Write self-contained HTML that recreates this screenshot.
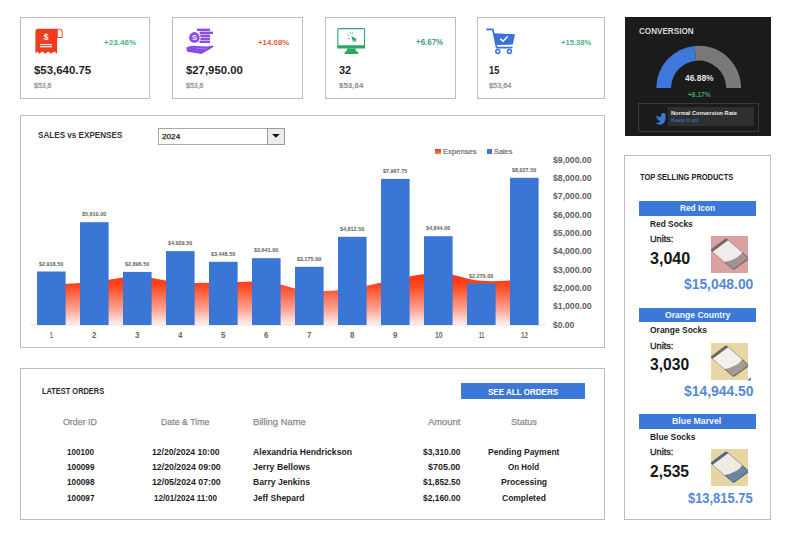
<!DOCTYPE html>
<html><head><meta charset="utf-8"><style>
html,body{margin:0;padding:0;background:#fff;width:790px;height:539px;overflow:hidden;position:relative;font-family:"Liberation Sans",sans-serif;}
.t{position:absolute;white-space:nowrap;line-height:1;transform-origin:0 0;}
.r{position:absolute;}
</style></head><body>
<div class="r" style="left:20px;top:17px;width:130px;height:82px;border:1px solid #bcbcbc;box-sizing:border-box;background:#fff;"></div>
<div class="r" style="left:172px;top:17px;width:131px;height:82px;border:1px solid #bcbcbc;box-sizing:border-box;background:#fff;"></div>
<div class="r" style="left:325px;top:17px;width:131px;height:82px;border:1px solid #bcbcbc;box-sizing:border-box;background:#fff;"></div>
<div class="r" style="left:477px;top:17px;width:128px;height:82px;border:1px solid #bcbcbc;box-sizing:border-box;background:#fff;"></div>
<div class="t" style="left:33.70px;top:65.01px;font-size:11.16px;font-weight:bold;color:#1f1f1f;transform:scaleX(1.024);">$53,640.75</div>
<div class="t" style="left:185.90px;top:65.01px;font-size:11.16px;font-weight:bold;color:#1f1f1f;transform:scaleX(1.017);">$27,950.00</div>
<div class="t" style="left:338.80px;top:64.77px;font-size:11.45px;font-weight:bold;color:#1f1f1f;transform:scaleX(0.960);">32</div>
<div class="t" style="left:488.80px;top:64.77px;font-size:11.45px;font-weight:bold;color:#1f1f1f;transform:scaleX(0.818);">15</div>
<div class="t" style="left:33.50px;top:83.26px;font-size:7.10px;color:#999;transform:scaleX(0.984);-webkit-text-stroke:0.3px #999;">$53,6</div>
<div class="t" style="left:185.50px;top:83.26px;font-size:7.10px;color:#999;transform:scaleX(0.984);-webkit-text-stroke:0.3px #999;">$53,6</div>
<div class="t" style="left:338.50px;top:82.04px;font-size:7.54px;font-weight:bold;color:#8a8a8a;transform:scaleX(1.056);font-family:"Liberation Serif",serif;">$53,64</div>
<div class="t" style="left:488.80px;top:83.26px;font-size:7.10px;color:#999;transform:scaleX(1.031);-webkit-text-stroke:0.3px #999;">$53,64</div>
<div class="t" style="left:103.90px;top:39.10px;font-size:8.12px;font-weight:bold;color:#4db383;transform:scaleX(0.995);">+23.46%</div>
<div class="t" style="left:258.40px;top:39.10px;font-size:8.12px;font-weight:bold;color:#e8583e;transform:scaleX(0.970);">+14.08%</div>
<div class="t" style="left:416.30px;top:37.85px;font-size:8.62px;font-weight:bold;color:#4e9e7e;transform:scaleX(0.923);font-family:"Liberation Serif",serif;">+6.67%</div>
<div class="t" style="left:561.00px;top:39.10px;font-size:8.12px;font-weight:bold;color:#4db383;transform:scaleX(0.942);">+15.38%</div>
<div class="r" style="left:625px;top:17px;width:146px;height:119px;background:#1b1b1b;"></div>
<div class="t" style="left:638.60px;top:26.29px;font-size:9.42px;font-weight:bold;color:#d8d8d8;transform:scaleX(0.863);">CONVERSION</div>
<div class="t" style="left:685.30px;top:73.81px;font-size:8.70px;font-weight:bold;color:#e6e6e6;transform:scaleX(0.970);">46.88%</div>
<div class="t" style="left:688.40px;top:91.44px;font-size:7.25px;font-weight:bold;color:#3fa86a;transform:scaleX(0.912);">+8.17%</div>
<div class="r" style="left:638px;top:103px;width:121px;height:29px;border:1px solid #3a3a3a;box-sizing:border-box;"></div>
<div class="r" style="left:668px;top:107px;width:86px;height:19px;background:#2f2f2f;"></div>
<div class="t" style="left:670.80px;top:110.55px;font-size:5.94px;font-weight:bold;color:#eeeeee;transform:scaleX(0.950);">Normal Conversion Rate</div>
<div class="t" style="left:671.00px;top:117.57px;font-size:5.80px;color:#4a78d0;transform:scaleX(1.010);">Keep it up!</div>
<div class="r" style="left:20px;top:115px;width:585px;height:233px;border:1px solid #bcbcbc;box-sizing:border-box;"></div>
<div class="t" style="left:37.50px;top:130.99px;font-size:8.84px;font-weight:bold;color:#333;transform:scaleX(0.919);">SALES vs EXPENSES</div>
<div class="r" style="left:20px;top:368px;width:585px;height:152px;border:1px solid #bcbcbc;box-sizing:border-box;"></div>
<div class="t" style="left:41.90px;top:387.04px;font-size:9.13px;font-weight:bold;color:#2a2a2a;transform:scaleX(0.813);">LATEST ORDERS</div>
<div class="r" style="left:461px;top:383px;width:124px;height:16px;background:#3c78d8;"></div>
<div class="t" style="left:487.70px;top:386.87px;font-size:9.57px;font-weight:bold;color:#ffffff;transform:scaleX(0.840);">SEE ALL ORDERS</div>
<div class="r" style="left:624px;top:155px;width:147px;height:365px;border:1px solid #bcbcbc;box-sizing:border-box;"></div>
<div class="t" style="left:640.40px;top:172.49px;font-size:9.42px;font-weight:bold;color:#222;transform:scaleX(0.792);">TOP SELLING PRODUCTS</div>
<svg class="r" style="left:0;top:0" width="790" height="539" viewBox="0 0 790 539"><defs><linearGradient id="ag" x1="0" y1="270" x2="0" y2="325" gradientUnits="userSpaceOnUse"><stop offset="0" stop-color="#ff2a00"/><stop offset="0.3" stop-color="#fd4a22"/><stop offset="0.7" stop-color="#fba090"/><stop offset="1" stop-color="#fdf2f0"/></linearGradient></defs><path d="M51.30,325.0 L51.30,284.80 C58.47,284.30 79.97,283.18 94.30,281.80 C108.63,280.42 122.97,276.38 137.30,276.50 C151.63,276.62 165.97,281.50 180.30,282.50 C194.63,283.50 208.97,282.58 223.30,282.50 C237.63,282.42 251.97,280.62 266.30,282.00 C280.63,283.38 294.97,289.73 309.30,290.80 C323.63,291.87 337.97,290.28 352.30,288.40 C366.63,286.52 380.97,282.07 395.30,279.50 C409.63,276.93 423.97,272.78 438.30,273.00 C452.63,273.22 466.97,279.67 481.30,280.80 C495.63,281.93 517.13,279.97 524.30,279.80 L524.30,325.0 Z" fill="url(#ag)"/><line x1="30" y1="325" x2="546" y2="325" stroke="#e4e4e4" stroke-width="1"/><rect x="37" y="271.5" width="28.6" height="53.5" fill="#3a76d6"/><rect x="80" y="222.2" width="28.6" height="102.8" fill="#3a76d6"/><rect x="123" y="271.9" width="28.6" height="53.1" fill="#3a76d6"/><rect x="166" y="251.1" width="28.6" height="73.9" fill="#3a76d6"/><rect x="209" y="261.8" width="28.6" height="63.2" fill="#3a76d6"/><rect x="252" y="258.2" width="28.6" height="66.8" fill="#3a76d6"/><rect x="295" y="266.8" width="28.6" height="58.2" fill="#3a76d6"/><rect x="338" y="236.8" width="28.6" height="88.2" fill="#3a76d6"/><rect x="381" y="178.9" width="28.6" height="146.1" fill="#3a76d6"/><rect x="424" y="236.2" width="28.6" height="88.8" fill="#3a76d6"/><rect x="467" y="283.4" width="28.6" height="41.6" fill="#3a76d6"/><rect x="510" y="177.8" width="28.6" height="147.2" fill="#3a76d6"/></svg>
<div class="t" style="left:39.20px;top:262.14px;font-size:5.36px;font-weight:bold;color:#606060;transform:scaleX(1.014);">$2,918.50</div>
<div class="t" style="left:82.20px;top:211.79px;font-size:5.36px;font-weight:bold;color:#606060;transform:scaleX(1.014);">$5,610.00</div>
<div class="t" style="left:125.20px;top:261.54px;font-size:5.36px;font-weight:bold;color:#606060;transform:scaleX(1.014);">$2,896.50</div>
<div class="t" style="left:168.20px;top:240.77px;font-size:5.36px;font-weight:bold;color:#606060;transform:scaleX(1.014);">$4,029.50</div>
<div class="t" style="left:211.20px;top:252.42px;font-size:5.36px;font-weight:bold;color:#606060;transform:scaleX(1.014);">$3,448.50</div>
<div class="t" style="left:254.20px;top:247.89px;font-size:5.36px;font-weight:bold;color:#606060;transform:scaleX(1.014);">$3,641.00</div>
<div class="t" style="left:297.20px;top:257.43px;font-size:5.36px;font-weight:bold;color:#606060;transform:scaleX(1.014);">$3,175.00</div>
<div class="t" style="left:340.20px;top:227.41px;font-size:5.36px;font-weight:bold;color:#606060;transform:scaleX(1.014);">$4,812.50</div>
<div class="t" style="left:383.20px;top:168.57px;font-size:5.36px;font-weight:bold;color:#606060;transform:scaleX(1.014);">$7,967.75</div>
<div class="t" style="left:426.20px;top:225.84px;font-size:5.36px;font-weight:bold;color:#606060;transform:scaleX(1.014);">$4,844.00</div>
<div class="t" style="left:469.20px;top:274.03px;font-size:5.36px;font-weight:bold;color:#606060;transform:scaleX(1.014);">$2,270.00</div>
<div class="t" style="left:512.20px;top:168.47px;font-size:5.36px;font-weight:bold;color:#606060;transform:scaleX(1.014);">$8,027.50</div>
<div class="t" style="left:49.90px;top:331.39px;font-size:8.84px;font-weight:bold;color:#6a6a6a;transform:scaleX(0.571);">1</div>
<div class="t" style="left:92.10px;top:331.39px;font-size:8.84px;font-weight:bold;color:#6a6a6a;transform:scaleX(0.897);">2</div>
<div class="t" style="left:135.10px;top:331.39px;font-size:8.84px;font-weight:bold;color:#6a6a6a;transform:scaleX(0.897);">3</div>
<div class="t" style="left:178.10px;top:331.39px;font-size:8.84px;font-weight:bold;color:#6a6a6a;transform:scaleX(0.897);">4</div>
<div class="t" style="left:221.10px;top:331.39px;font-size:8.84px;font-weight:bold;color:#6a6a6a;transform:scaleX(0.897);">5</div>
<div class="t" style="left:264.10px;top:331.39px;font-size:8.84px;font-weight:bold;color:#6a6a6a;transform:scaleX(0.897);">6</div>
<div class="t" style="left:307.10px;top:331.39px;font-size:8.84px;font-weight:bold;color:#6a6a6a;transform:scaleX(0.897);">7</div>
<div class="t" style="left:350.10px;top:331.39px;font-size:8.84px;font-weight:bold;color:#6a6a6a;transform:scaleX(0.897);">8</div>
<div class="t" style="left:393.10px;top:331.39px;font-size:8.84px;font-weight:bold;color:#6a6a6a;transform:scaleX(0.897);">9</div>
<div class="t" style="left:434.50px;top:331.39px;font-size:8.84px;font-weight:bold;color:#6a6a6a;transform:scaleX(0.774);">10</div>
<div class="t" style="left:478.65px;top:331.39px;font-size:8.84px;font-weight:bold;color:#6a6a6a;transform:scaleX(0.568);">11</div>
<div class="t" style="left:520.85px;top:331.39px;font-size:8.84px;font-weight:bold;color:#6a6a6a;transform:scaleX(0.703);">12</div>
<div class="t" style="left:553.00px;top:321.78px;font-size:8.26px;font-weight:bold;color:#5e5e5e;transform:scaleX(1.034);">$0.00</div>
<div class="t" style="left:553.00px;top:303.45px;font-size:8.26px;font-weight:bold;color:#5e5e5e;transform:scaleX(1.050);">$1,000.00</div>
<div class="t" style="left:553.00px;top:285.11px;font-size:8.26px;font-weight:bold;color:#5e5e5e;transform:scaleX(1.050);">$2,000.00</div>
<div class="t" style="left:553.00px;top:266.78px;font-size:8.26px;font-weight:bold;color:#5e5e5e;transform:scaleX(1.050);">$3,000.00</div>
<div class="t" style="left:553.00px;top:248.45px;font-size:8.26px;font-weight:bold;color:#5e5e5e;transform:scaleX(1.050);">$4,000.00</div>
<div class="t" style="left:553.00px;top:230.11px;font-size:8.26px;font-weight:bold;color:#5e5e5e;transform:scaleX(1.050);">$5,000.00</div>
<div class="t" style="left:553.00px;top:211.78px;font-size:8.26px;font-weight:bold;color:#5e5e5e;transform:scaleX(1.050);">$6,000.00</div>
<div class="t" style="left:553.00px;top:193.45px;font-size:8.26px;font-weight:bold;color:#5e5e5e;transform:scaleX(1.050);">$7,000.00</div>
<div class="t" style="left:553.00px;top:175.11px;font-size:8.26px;font-weight:bold;color:#5e5e5e;transform:scaleX(1.050);">$8,000.00</div>
<div class="t" style="left:553.00px;top:156.78px;font-size:8.26px;font-weight:bold;color:#5e5e5e;transform:scaleX(1.050);">$9,000.00</div>
<div class="r" style="left:435.2px;top:149.2px;width:5.400000000000034px;height:4.400000000000006px;background:linear-gradient(#e63a22,#f08068);"></div>
<div class="t" style="left:443.00px;top:149.09px;font-size:6.96px;color:#707070;transform:scaleX(1.104);-webkit-text-stroke:0.2px #707070;">Expenses</div>
<div class="r" style="left:486.9px;top:149.4px;width:4.800000000000011px;height:4.599999999999994px;background:#3a76d6;"></div>
<div class="t" style="left:494.30px;top:149.09px;font-size:6.96px;color:#707070;transform:scaleX(1.052);-webkit-text-stroke:0.2px #707070;">Sales</div>
<div class="r" style="left:158px;top:128px;width:127px;height:17px;border:1px solid #a8a8a8;box-sizing:border-box;background:#fff;"></div>
<div class="r" style="left:267px;top:128px;width:18px;height:17px;background:#ececec;border:1px solid #9a9a9a;box-sizing:border-box;"></div>
<svg class="r" style="left:270px;top:133px" width="11" height="7"><polygon points="2,1 9.8,1 5.9,4.8" fill="#111"/></svg>
<div class="t" style="left:161.80px;top:133.47px;font-size:7.68px;color:#222;transform:scaleX(1.065);-webkit-text-stroke:0.25px #222;">2024</div>
<svg class="r" style="left:0;top:0" width="790" height="120" viewBox="0 0 790 120">
<path d="M35.4,31.7 Q35.4,28.7 38.4,28.7 L59.5,28.7 Q62.6,28.7 62.6,31.7 L62.6,37.9 L57.1,37.9 L57.1,53.8 L54.1,51.6 L51,53.8 L48.1,51.6 L45.2,53.8 L42.2,51.6 L39.3,53.8 L37.2,51.6 L35.4,53.8 Z" fill="#f03b1c"/>
<path d="M57.8,29.6 L59.5,29.6 Q61.7,29.6 61.7,31.7 L61.7,37.1 L57.8,37.1 Z" fill="#fff"/>
<text x="46.1" y="39.6" font-family="Liberation Sans" font-weight="bold" font-size="8.6" fill="#fff" text-anchor="middle">$</text>
<rect x="40" y="44" width="12" height="1.1" fill="#fff"/>
<rect x="40" y="46.2" width="12" height="1.1" fill="#fff"/>
</svg>
<svg class="r" style="left:0;top:0" width="790" height="120" viewBox="0 0 790 120">
<g fill="#8d4be6">
<rect x="197" y="28.6" width="13" height="2.4"/>
<rect x="199.6" y="31.6" width="13.4" height="2.4"/>
<rect x="200" y="34.6" width="10" height="2.4"/>
<rect x="200" y="37.6" width="10" height="2.4"/>
<rect x="199.4" y="40.6" width="10.6" height="2.4"/>
<path d="M186.2,47.6 Q190,45.6 193.3,45.8 L206.7,46.6 L213.3,45.6 Q214,46.6 212.5,47.6 L201.6,54.1 L195.3,53 L187.2,51.8 Z"/>
</g>
<circle cx="194.4" cy="37.4" r="6.2" fill="#fff"/>
<circle cx="194.4" cy="37.4" r="5.3" fill="#8d4be6"/>
<text x="194.6" y="40.1" font-family="Liberation Sans" font-weight="bold" font-size="7.6" fill="#f0e6ff" text-anchor="middle">S</text>
<path d="M196,48.4 L206.7,48.6" stroke="#b98cf0" stroke-width="0.6"/>
</svg>
<svg class="r" style="left:0;top:0" width="790" height="120" viewBox="0 0 790 120">
<g fill="#2aa865">
<path d="M338.8,28.1 L363.6,28.1 Q365.1,28.1 365.1,29.6 L365.1,48.6 L337.3,48.6 L337.3,29.6 Q337.3,28.1 338.8,28.1 Z M338.4,29.2 L338.4,45.2 L364.0,45.2 L364.0,29.2 Z" fill-rule="evenodd"/>
<path d="M347.3,48.6 L355.3,48.6 L356,51 L358.3,52.2 L358.3,53.9 L344.6,53.9 L344.6,52.2 L346.6,51 Z"/>
<path d="M351.3,36 L357,39.3 L355,39.9 L356.7,41.4 L355.8,42.2 L354.2,40.6 L353,42 Z"/>
<rect x="347.6" y="34.6" width="1.6" height="0.8"/>
<rect x="348" y="38" width="1.5" height="0.8"/>
<rect x="350.2" y="32.4" width="0.8" height="1.3"/>
<rect x="352.2" y="32.4" width="0.8" height="1.3"/>
</g>
</svg>
<svg class="r" style="left:0;top:0" width="790" height="120" viewBox="0 0 790 120">
<g fill="none" stroke="#3a73d6" stroke-linecap="round" stroke-linejoin="round">
<path d="M487,29.4 L492.8,29.4 L496.6,47.6 L511.8,47.6" stroke-width="1.7"/>
<circle cx="497.8" cy="51.6" r="2" stroke-width="1.5"/>
<circle cx="509.4" cy="51.6" r="2" stroke-width="1.5"/>
</g>
<path d="M493.6,33.2 L515,34.2 L512.8,44.6 L496.3,45 Z" fill="#3a73d6"/>
<path d="M500.6,39.2 L503,41.2 L507.4,36.8" fill="none" stroke="#fff" stroke-width="1.5" stroke-linecap="round" stroke-linejoin="round"/>
</svg>
<svg class="r" style="left:0;top:0" width="790" height="140" viewBox="0 0 790 140"><path d="M656.3000000000001,88.1 A42.4,42.4 0 0 1 694.55,45.90 L696.00,60.63 A27.6,27.6 0 0 0 671.1,88.1 Z" fill="#3d78da"/><path d="M694.55,45.90 A42.4,42.4 0 0 1 741.1,88.1 L726.3000000000001,88.1 A27.6,27.6 0 0 0 696.00,60.63 Z" fill="#7b7978"/><path d="M655.2,115.5 Q657,118.5 659.5,118.6 Q657.2,119 656.3,118.3 Q657.5,121 660.8,121.3 Q658.8,123.5 655.5,123 Q661,126.8 664.2,122.6 Q666,119.8 665.6,114.6 L666.6,113.6 L665.2,113.9 Q663.6,112.4 661.5,113.8 Q660.6,115.4 661,117 Q658,116.8 655.2,115.5 Z" fill="#3c78d8"/></svg>
<div class="t" style="left:63.20px;top:416.55px;font-size:9.71px;color:#8a8a8a;transform:scaleX(0.910);-webkit-text-stroke:0.25px #8a8a8a;">Order ID</div>
<div class="t" style="left:161.30px;top:416.55px;font-size:9.71px;color:#8a8a8a;transform:scaleX(0.906);-webkit-text-stroke:0.25px #8a8a8a;">Date &amp; Time</div>
<div class="t" style="left:252.50px;top:416.55px;font-size:9.71px;color:#8a8a8a;transform:scaleX(0.967);-webkit-text-stroke:0.25px #8a8a8a;">Billing Name</div>
<div class="t" style="left:428.20px;top:416.55px;font-size:9.71px;color:#8a8a8a;transform:scaleX(0.969);-webkit-text-stroke:0.25px #8a8a8a;">Amount</div>
<div class="t" style="left:510.60px;top:416.55px;font-size:9.71px;color:#8a8a8a;transform:scaleX(0.941);-webkit-text-stroke:0.25px #8a8a8a;">Status</div>
<div class="t" style="left:66.90px;top:446.72px;font-size:9.86px;font-weight:bold;color:#1e1e1e;transform:scaleX(0.818);">100100</div>
<div class="t" style="left:152.10px;top:446.72px;font-size:9.86px;font-weight:bold;color:#1e1e1e;transform:scaleX(0.875);">12/20/2024 10:00</div>
<div class="t" style="left:252.90px;top:446.72px;font-size:9.86px;font-weight:bold;color:#1e1e1e;transform:scaleX(0.879);">Alexandria Hendrickson</div>
<div class="t" style="left:423.10px;top:446.72px;font-size:9.86px;font-weight:bold;color:#1e1e1e;transform:scaleX(0.855);">$3,310.00</div>
<div class="t" style="left:487.90px;top:446.72px;font-size:9.86px;font-weight:bold;color:#1e1e1e;transform:scaleX(0.865);">Pending Payment</div>
<div class="t" style="left:66.50px;top:462.02px;font-size:9.86px;font-weight:bold;color:#1e1e1e;transform:scaleX(0.837);">100099</div>
<div class="t" style="left:151.50px;top:462.02px;font-size:9.86px;font-weight:bold;color:#1e1e1e;transform:scaleX(0.890);">12/20/2024 09:00</div>
<div class="t" style="left:252.90px;top:462.02px;font-size:9.86px;font-weight:bold;color:#1e1e1e;transform:scaleX(0.891);">Jerry Bellows</div>
<div class="t" style="left:428.20px;top:462.02px;font-size:9.86px;font-weight:bold;color:#1e1e1e;transform:scaleX(0.909);">$705.00</div>
<div class="t" style="left:507.80px;top:462.02px;font-size:9.86px;font-weight:bold;color:#1e1e1e;transform:scaleX(0.811);">On Hold</div>
<div class="t" style="left:66.50px;top:476.92px;font-size:9.86px;font-weight:bold;color:#1e1e1e;transform:scaleX(0.837);">100098</div>
<div class="t" style="left:151.50px;top:476.92px;font-size:9.86px;font-weight:bold;color:#1e1e1e;transform:scaleX(0.890);">12/05/2024 07:00</div>
<div class="t" style="left:252.90px;top:476.92px;font-size:9.86px;font-weight:bold;color:#1e1e1e;transform:scaleX(0.876);">Barry Jenkins</div>
<div class="t" style="left:423.10px;top:476.92px;font-size:9.86px;font-weight:bold;color:#1e1e1e;transform:scaleX(0.855);">$1,852.50</div>
<div class="t" style="left:500.50px;top:476.92px;font-size:9.86px;font-weight:bold;color:#1e1e1e;transform:scaleX(0.868);">Processing</div>
<div class="t" style="left:66.50px;top:492.62px;font-size:9.86px;font-weight:bold;color:#1e1e1e;transform:scaleX(0.837);">100097</div>
<div class="t" style="left:154.00px;top:492.62px;font-size:9.86px;font-weight:bold;color:#1e1e1e;transform:scaleX(0.822);">12/01/2024 11:00</div>
<div class="t" style="left:252.90px;top:492.62px;font-size:9.86px;font-weight:bold;color:#1e1e1e;transform:scaleX(0.865);">Jeff Shepard</div>
<div class="t" style="left:423.10px;top:492.62px;font-size:9.86px;font-weight:bold;color:#1e1e1e;transform:scaleX(0.855);">$2,160.00</div>
<div class="t" style="left:501.70px;top:492.62px;font-size:9.86px;font-weight:bold;color:#1e1e1e;transform:scaleX(0.862);">Completed</div>
<div class="r" style="left:638.5px;top:201.0px;width:117.10000000000002px;height:14.900000000000006px;background:#3c78d8;"></div>
<div class="t" style="left:679.80px;top:203.29px;font-size:9.42px;font-weight:bold;color:#f4f6fb;transform:scaleX(0.882);">Red Icon</div>
<div class="t" style="left:650.00px;top:218.69px;font-size:9.42px;font-weight:bold;color:#1e1e1e;transform:scaleX(0.888);">Red Socks</div>
<div class="t" style="left:650.00px;top:233.72px;font-size:9.86px;color:#222;transform:scaleX(0.929);-webkit-text-stroke:0.35px #222;">Units:</div>
<div class="t" style="left:650.00px;top:250.61px;font-size:16.81px;font-weight:bold;color:#161616;transform:scaleX(0.957);">3,040</div>
<div class="t" style="left:683.70px;top:276.83px;font-size:14.78px;font-weight:bold;color:#5588d6;transform:scaleX(0.938);">$15,048.00</div>
<svg class="r" style="left:711.2px;top:236.0px" width="37" height="37" viewBox="0 0 37 37"><rect width="37" height="37" fill="#d9a1a1"/><g transform="translate(18.9,18.2) rotate(41) skewX(-12.6)"><rect x="-15.6" y="-9.7" width="31.2" height="19.4" rx="1.6" fill="#7a6464"/><path d="M4.5,-8.9 Q9.5,-1 3,8.9 L14.2,8.9 Q15,0 14.2,-8.9 Z" fill="#a39292"/><path d="M-12.6,-9.4 L6,-9.4 Q9,-1 3.2,9.4 L-12.6,9.4 Z" fill="#f1ecec"/></g></svg>
<div class="r" style="left:638.5px;top:307.6px;width:117.10000000000002px;height:14.899999999999977px;background:#3c78d8;"></div>
<div class="t" style="left:664.70px;top:309.89px;font-size:9.42px;font-weight:bold;color:#f4f6fb;transform:scaleX(0.911);">Orange Country</div>
<div class="t" style="left:650.00px;top:325.29px;font-size:9.42px;font-weight:bold;color:#1e1e1e;transform:scaleX(0.901);">Orange Socks</div>
<div class="t" style="left:650.00px;top:341.32px;font-size:9.86px;color:#222;transform:scaleX(0.929);-webkit-text-stroke:0.35px #222;">Units:</div>
<div class="t" style="left:650.00px;top:357.21px;font-size:16.81px;font-weight:bold;color:#161616;transform:scaleX(0.931);">3,030</div>
<div class="t" style="left:683.50px;top:384.43px;font-size:14.78px;font-weight:bold;color:#5588d6;transform:scaleX(0.941);">$14,944.50</div>
<svg class="r" style="left:711.2px;top:342.6px" width="37" height="37" viewBox="0 0 37 37"><rect width="37" height="37" fill="#e7d6a6"/><g transform="translate(18.9,18.2) rotate(41) skewX(-12.6)"><rect x="-15.6" y="-9.7" width="31.2" height="19.4" rx="1.6" fill="#6f6760"/><path d="M4.5,-8.9 Q9.5,-1 3,8.9 L14.2,8.9 Q15,0 14.2,-8.9 Z" fill="#a49c94"/><path d="M-12.6,-9.4 L6,-9.4 Q9,-1 3.2,9.4 L-12.6,9.4 Z" fill="#f3f1ec"/></g></svg>
<div class="r" style="left:638.5px;top:414.2px;width:117.10000000000002px;height:14.899999999999977px;background:#3c78d8;"></div>
<div class="t" style="left:672.40px;top:416.49px;font-size:9.42px;font-weight:bold;color:#f4f6fb;transform:scaleX(0.934);">Blue Marvel</div>
<div class="t" style="left:650.00px;top:431.89px;font-size:9.42px;font-weight:bold;color:#1e1e1e;transform:scaleX(0.894);">Blue Socks</div>
<div class="t" style="left:650.00px;top:446.92px;font-size:9.86px;color:#222;transform:scaleX(0.929);-webkit-text-stroke:0.35px #222;">Units:</div>
<div class="t" style="left:650.00px;top:463.81px;font-size:16.81px;font-weight:bold;color:#161616;transform:scaleX(0.928);">2,535</div>
<div class="t" style="left:688.40px;top:491.03px;font-size:14.78px;font-weight:bold;color:#5588d6;transform:scaleX(0.874);">$13,815.75</div>
<svg class="r" style="left:711.2px;top:449.2px" width="37" height="37" viewBox="0 0 37 37"><rect width="37" height="37" fill="#e6d4a3"/><g transform="translate(18.9,18.2) rotate(41) skewX(-12.6)"><rect x="-15.6" y="-9.7" width="31.2" height="19.4" rx="1.6" fill="#506780"/><path d="M4.5,-8.9 Q9.5,-1 3,8.9 L14.2,8.9 Q15,0 14.2,-8.9 Z" fill="#6b85a3"/><path d="M-12.6,-9.4 L6,-9.4 Q9,-1 3.2,9.4 L-12.6,9.4 Z" fill="#eeebe2"/></g></svg>
<svg class="r" style="left:746px;top:376px" width="6" height="6"><path d="M1.5,4.6 L4.6,1.2 L4.8,4.6 Z" fill="#3a5fb8"/></svg>
</body></html>
